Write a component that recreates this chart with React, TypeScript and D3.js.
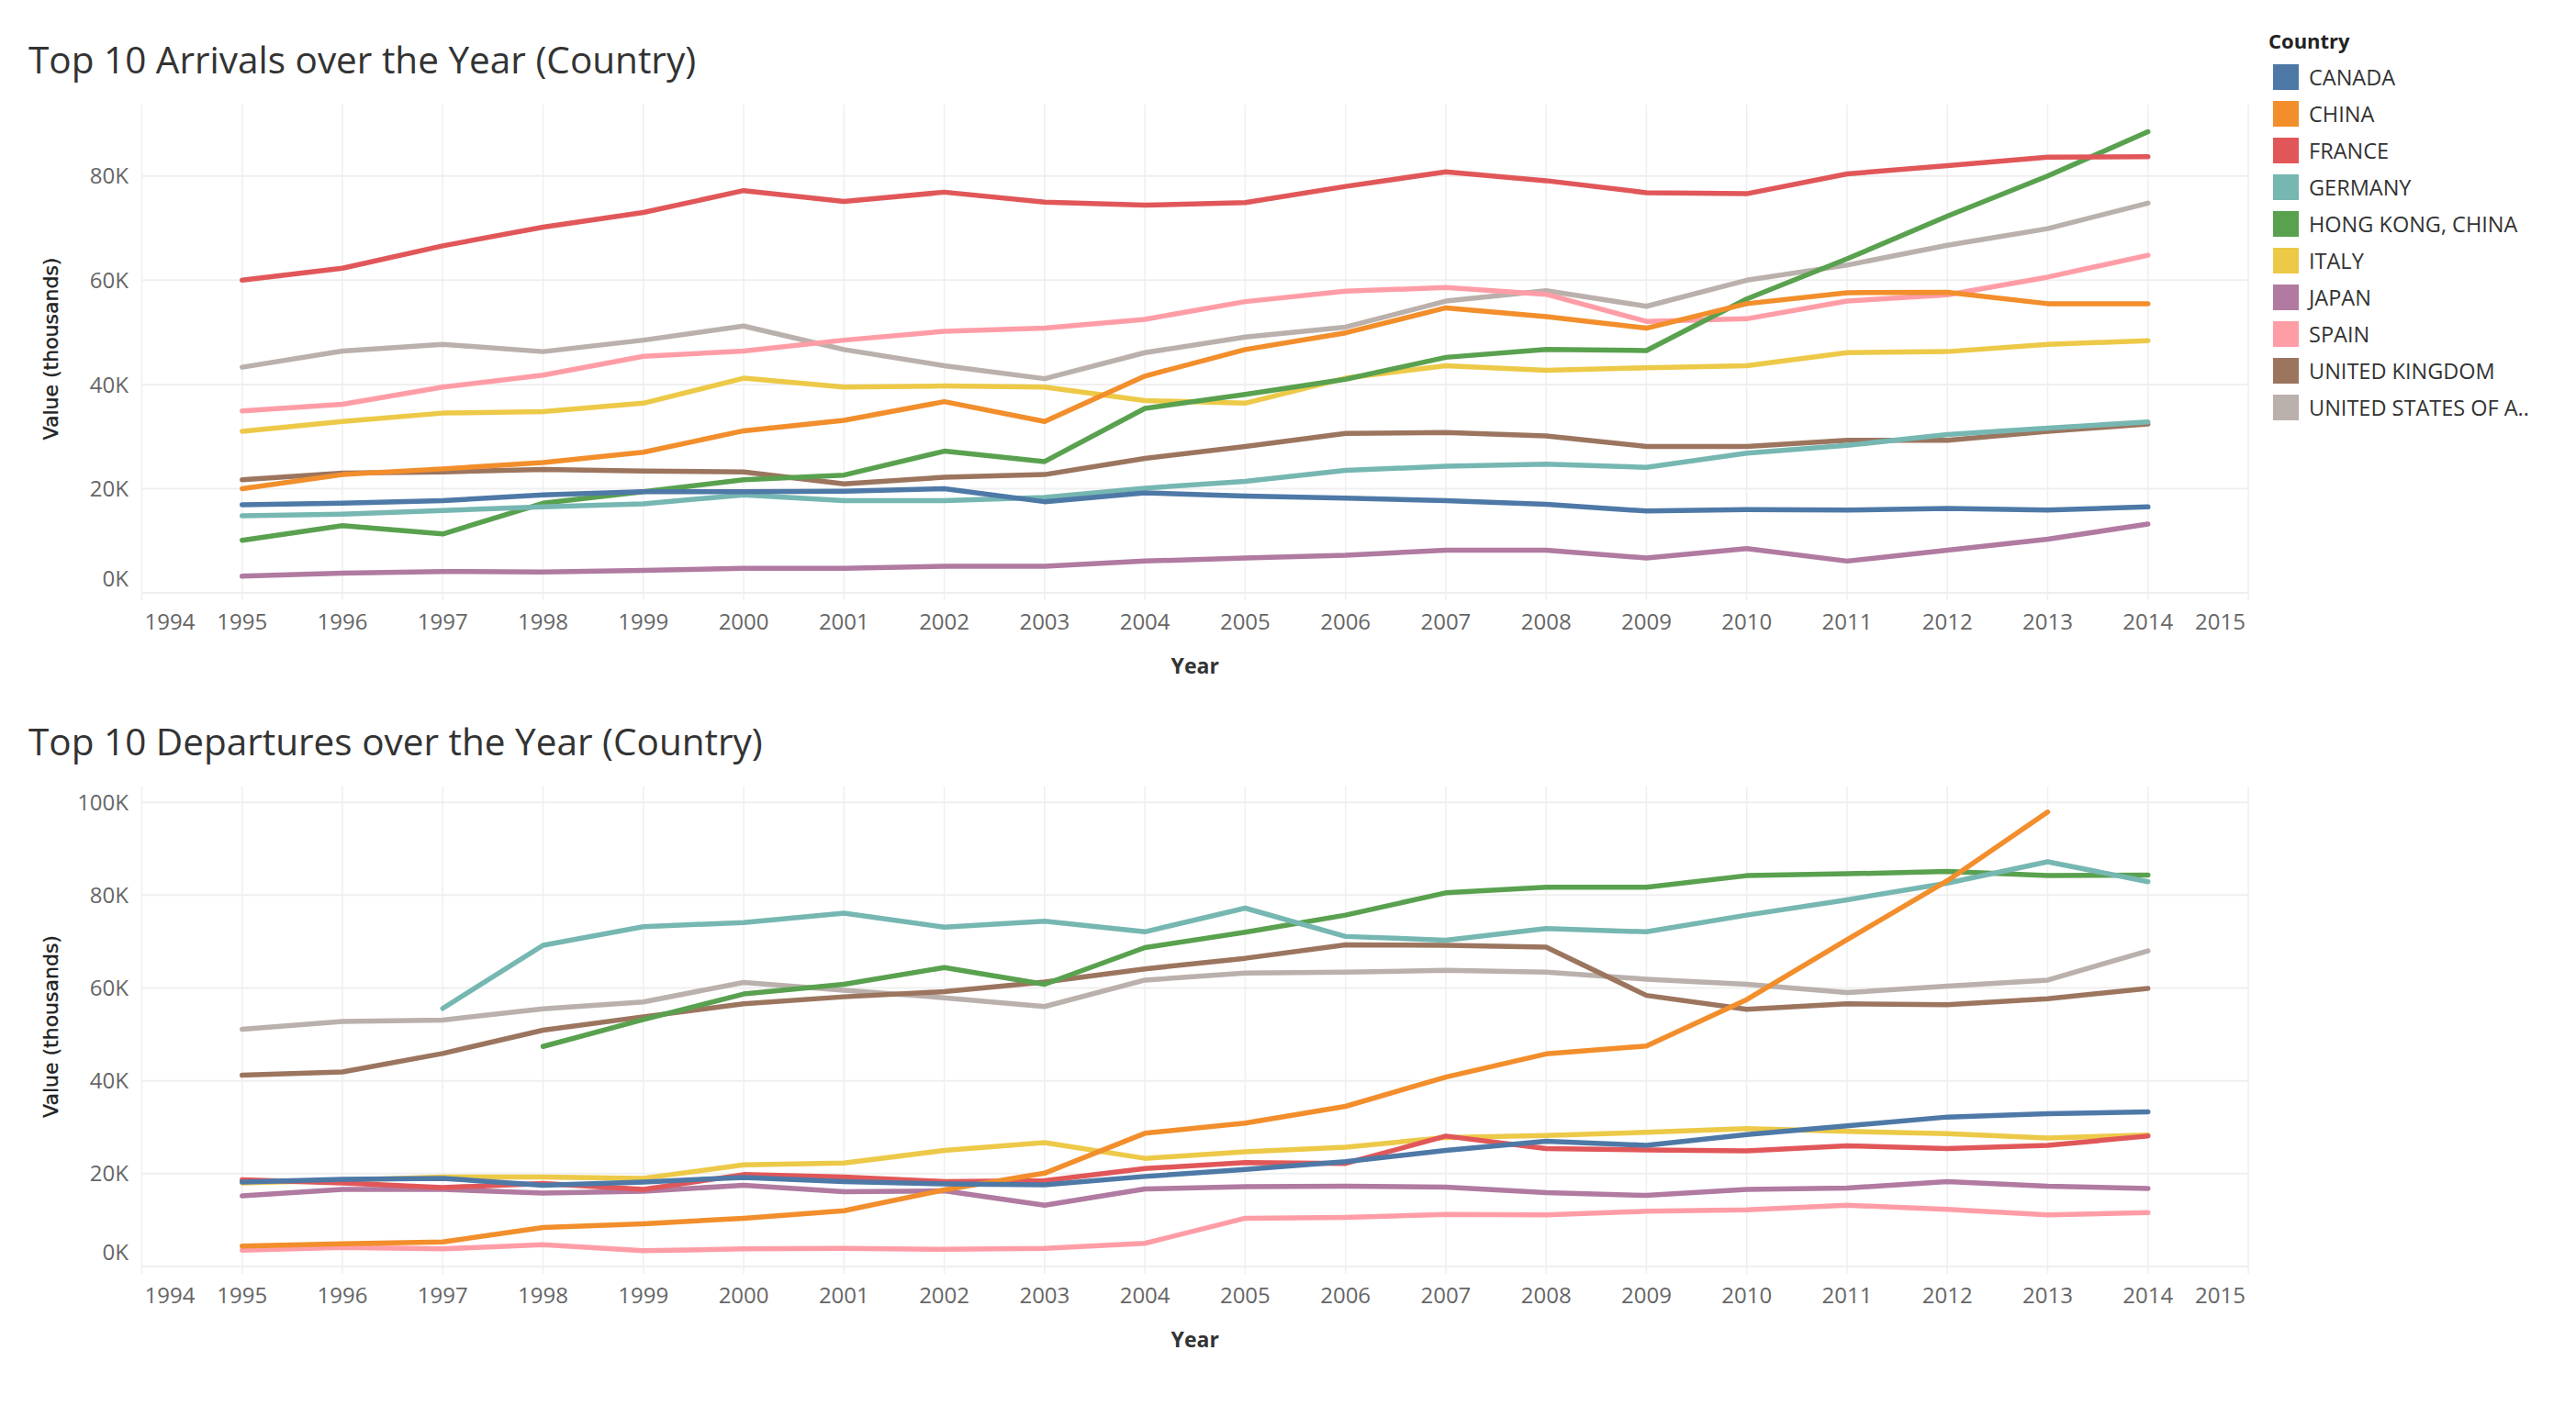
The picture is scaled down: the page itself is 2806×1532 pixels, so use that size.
import * as d3 from 'd3';
import { useEffect } from 'react';

// values in thousands
const YEARS = [1995, 1996, 1997, 1998, 1999, 2000, 2001, 2002, 2003, 2004, 2005, 2006, 2007, 2008, 2009, 2010, 2011, 2012, 2013, 2014];
const AXIS_YEARS = [1994, 1995, 1996, 1997, 1998, 1999, 2000, 2001, 2002, 2003, 2004, 2005, 2006, 2007, 2008, 2009, 2010, 2011, 2012, 2013, 2014, 2015];

const COUNTRIES = ['CANADA', 'CHINA', 'FRANCE', 'GERMANY', 'HONG KONG, CHINA', 'ITALY', 'JAPAN', 'SPAIN', 'UNITED KINGDOM', 'UNITED STATES OF A..'];
const COLORS = ['#4e79a7', '#f28e2b', '#e15759', '#76b7b2', '#59a14f', '#edc948', '#b07aa1', '#ff9da7', '#9c755f', '#bab0ac'];

const ARR_TICKS = [0, 20, 40, 60, 80];
const DEP_TICKS = [0, 20, 40, 60, 80, 100];

// arrivals
const ARR_CANADA = [16.9, 17.2, 17.7, 18.8, 19.4, 19.4, 19.5, 20.0, 17.5, 19.2, 18.6, 18.2, 17.7, 17.0, 15.7, 16.0, 15.9, 16.2, 15.9, 16.5];
const ARR_CHINA = [20.0, 22.7, 23.8, 25.0, 27.0, 31.1, 33.1, 36.7, 32.9, 41.6, 46.7, 49.9, 54.7, 53.0, 50.8, 55.5, 57.6, 57.7, 55.5, 55.5];
const ARR_FRANCE = [60.0, 62.3, 66.6, 70.2, 73.0, 77.2, 75.1, 76.9, 75.0, 74.4, 74.9, 78.0, 80.8, 79.1, 76.8, 76.6, 80.4, 82.0, 83.6, 83.7];
const ARR_GERMANY = [14.8, 15.1, 15.8, 16.5, 17.1, 18.8, 17.7, 17.7, 18.3, 20.1, 21.4, 23.5, 24.3, 24.7, 24.1, 26.8, 28.3, 30.4, 31.6, 32.8];
const ARR_HONGKONG = [10.1, 12.9, 11.3, 17.2, 19.4, 21.7, 22.6, 27.2, 25.2, 35.4, 38.1, 41.0, 45.2, 46.7, 46.5, 56.4, 64.1, 72.3, 80.0, 88.5];
const ARR_ITALY = [31.0, 32.9, 34.5, 34.8, 36.4, 41.2, 39.5, 39.7, 39.5, 36.9, 36.4, 41.2, 43.6, 42.7, 43.2, 43.6, 46.1, 46.3, 47.7, 48.4];
const ARR_JAPAN = [3.2, 3.8, 4.1, 4.0, 4.3, 4.7, 4.7, 5.1, 5.1, 6.1, 6.7, 7.2, 8.2, 8.2, 6.7, 8.5, 6.1, 8.2, 10.3, 13.2];
const ARR_SPAIN = [34.9, 36.2, 39.5, 41.8, 45.4, 46.4, 48.5, 50.2, 50.8, 52.5, 55.9, 57.9, 58.6, 57.3, 52.1, 52.6, 56.0, 57.2, 60.6, 64.8];
const ARR_UK = [21.7, 23.0, 23.2, 23.7, 23.4, 23.2, 20.9, 22.2, 22.7, 25.8, 28.1, 30.6, 30.8, 30.1, 28.1, 28.1, 29.3, 29.3, 31.0, 32.4];
const ARR_USA = [43.3, 46.4, 47.7, 46.3, 48.5, 51.2, 46.7, 43.6, 41.1, 46.1, 49.1, 51.0, 56.0, 58.0, 55.0, 60.0, 62.9, 66.7, 69.9, 74.8];

// departures (null = no value that year)
const DEP_CANADA = [18.2, 18.8, 19.0, 17.5, 18.2, 19.2, 18.3, 17.8, 17.6, 19.4, 20.9, 22.6, 25.0, 27.0, 26.1, 28.4, 30.3, 32.2, 32.9, 33.3];
const DEP_CHINA = [4.4, 4.9, 5.3, 8.4, 9.2, 10.4, 12.0, 16.5, 20.1, 28.7, 30.9, 34.5, 40.8, 45.8, 47.5, 57.5, 70.4, 83.1, 97.9, null];
const DEP_FRANCE = [18.7, 18.0, 17.0, 17.9, 16.6, 19.8, 19.3, 18.3, 18.5, 21.1, 22.4, 22.2, 28.1, 25.4, 25.1, 24.9, 26.0, 25.4, 26.1, 28.1];
const DEP_GERMANY = [null, null, 55.6, 69.2, 73.2, 74.1, 76.1, 73.1, 74.4, 72.1, 77.2, 71.1, 70.3, 72.8, 72.1, 75.7, 79.0, 82.6, 87.2, 82.9];
const DEP_HONGKONG = [null, null, null, 47.4, 53.2, 58.7, 60.8, 64.4, 60.8, 68.7, 72.0, 75.7, 80.5, 81.7, 81.7, 84.2, 84.6, 85.1, 84.2, 84.3];
const DEP_ITALY = [18.0, 18.6, 19.3, 19.3, 19.0, 21.9, 22.3, 25.0, 26.7, 23.3, 24.7, 25.7, 27.8, 28.2, 28.9, 29.7, 29.1, 28.6, 27.7, 28.3];
const DEP_JAPAN = [15.2, 16.6, 16.6, 15.8, 16.2, 17.5, 16.1, 16.3, 13.2, 16.7, 17.2, 17.3, 17.1, 15.9, 15.3, 16.6, 16.9, 18.3, 17.3, 16.8];
const DEP_SPAIN = [3.5, 4.1, 3.8, 4.7, 3.4, 3.8, 3.9, 3.7, 3.9, 5.0, 10.4, 10.6, 11.2, 11.1, 11.9, 12.2, 13.2, 12.3, 11.1, 11.6];
const DEP_UK = [41.2, 41.9, 45.9, 50.9, 53.8, 56.6, 58.1, 59.2, 61.3, 64.1, 66.4, 69.3, 69.2, 68.8, 58.4, 55.4, 56.6, 56.4, 57.7, 59.9];
const DEP_USA = [51.1, 52.8, 53.1, 55.5, 57.0, 61.2, 59.5, 57.9, 56.0, 61.7, 63.2, 63.4, 63.8, 63.4, 61.9, 60.8, 59.0, 60.4, 61.7, 68.0];

const ARRIVALS = [ARR_CANADA, ARR_CHINA, ARR_FRANCE, ARR_GERMANY, ARR_HONGKONG, ARR_ITALY, ARR_JAPAN, ARR_SPAIN, ARR_UK, ARR_USA];
const DEPARTURES = [DEP_CANADA, DEP_CHINA, DEP_FRANCE, DEP_GERMANY, DEP_HONGKONG, DEP_ITALY, DEP_JAPAN, DEP_SPAIN, DEP_UK, DEP_USA];

const WIDTH = 2806;
const HEIGHT = 1532;
const PLOT_LEFT = 154.5;
const PLOT_RIGHT = 2449;
const FONT = '"Open Sans", "Noto Sans", sans-serif';
const GRID = '#efefef';

interface ChartProps {
  title: string;
  series: (number | null)[][];
  yMax: number;
  yTicks: number[];
  top: number;
  bottom: number;
  titleBaseline: number;
}

function LineChart({ title, series, yMax, yTicks, top, bottom, titleBaseline }: ChartProps) {
  const x = d3.scaleLinear().domain([1994, 2015]).range([PLOT_LEFT, PLOT_RIGHT]);
  const y = d3.scaleLinear().domain([0, yMax]).range([bottom, top]);

  const line = d3.line<number | null>()
    .defined(d => d !== null)
    .x((_, i) => x(YEARS[i]))
    .y(d => y(d as number));

  // Tableau draws the first legend entry on top, so paint in reverse
  const order = series.map((_, i) => i).reverse();

  return (
    <g>
      <text x={31} y={titleBaseline} fontFamily={FONT} fontSize={40.5} fill="#333">{title}</text>

      {AXIS_YEARS.map(yr => (
        <line key={`v${yr}`} x1={x(yr)} x2={x(yr)} y1={top} y2={bottom + 8} stroke={GRID} strokeWidth={1.5} />
      ))}
      {yTicks.map(t => (
        <line key={`h${t}`} x1={PLOT_LEFT} x2={PLOT_RIGHT} y1={y(t)} y2={y(t)} stroke={GRID} strokeWidth={2} />
      ))}

      {yTicks.map(t => {
        const cy = Math.min(y(t), bottom - 16);
        return (
          <text key={`yl${t}`} x={140} y={cy} dy="0.36em" textAnchor="end" fontFamily={FONT} fontSize={24} fill="#666">
            {`${t}K`}
          </text>
        );
      })}

      {AXIS_YEARS.map((yr, i) => {
        const last = AXIS_YEARS.length - 1;
        const anchor = i === 0 ? 'start' : i === last ? 'end' : 'middle';
        const px = i === 0 ? x(yr) + 3 : i === last ? x(yr) - 3 : x(yr);
        return (
          <text key={`xl${yr}`} x={px} y={bottom + 40} textAnchor={anchor} fontFamily={FONT} fontSize={24} fill="#666">
            {yr}
          </text>
        );
      })}

      <text x={(PLOT_LEFT + PLOT_RIGHT) / 2} y={bottom + 88} textAnchor="middle" fontFamily={FONT} fontSize={23} fontWeight={700} fill="#333">
        Year
      </text>
      <text
        transform={`translate(63,${(top + bottom) / 2}) rotate(-90)`}
        textAnchor="middle"
        fontFamily='"DejaVu Sans", Verdana, sans-serif'
        fontSize={22}
        fill="#222"
        stroke="#222"
        strokeWidth={0.4}
      >
        Value (thousands)
      </text>

      {order.map(i => (
        <path
          key={COUNTRIES[i]}
          d={line(series[i]) || ''}
          fill="none"
          stroke={COLORS[i]}
          strokeWidth={5.5}
          strokeLinejoin="round"
          strokeLinecap="round"
        />
      ))}
    </g>
  );
}

function Legend() {
  return (
    <g>
      <text x={2471} y={53} fontFamily={FONT} fontSize={22} fontWeight={700} fill="#222">Country</text>
      {COUNTRIES.map((c, i) => (
        <g key={c} transform={`translate(2476,${70 + i * 40})`}>
          <rect width={28} height={28} fill={COLORS[i]} />
          <text x={39} y={15} dy="0.36em" fontFamily={FONT} fontSize={23.5} fill="#333">{c}</text>
        </g>
      ))}
    </g>
  );
}

export default function App() {
  useEffect(() => {
    document.body.style.margin = '0';
  }, []);

  return (
    <svg width={WIDTH} height={HEIGHT} style={{ display: 'block', background: '#fff' }}>
      <LineChart
        title="Top 10 Arrivals over the Year (Country)"
        series={ARRIVALS}
        yMax={93.7}
        yTicks={ARR_TICKS}
        top={114}
        bottom={646}
        titleBaseline={80}
      />
      <LineChart
        title="Top 10 Departures over the Year (Country)"
        series={DEPARTURES}
        yMax={103.4}
        yTicks={DEP_TICKS}
        top={857}
        bottom={1380}
        titleBaseline={823}
      />
      <Legend />
    </svg>
  );
}
